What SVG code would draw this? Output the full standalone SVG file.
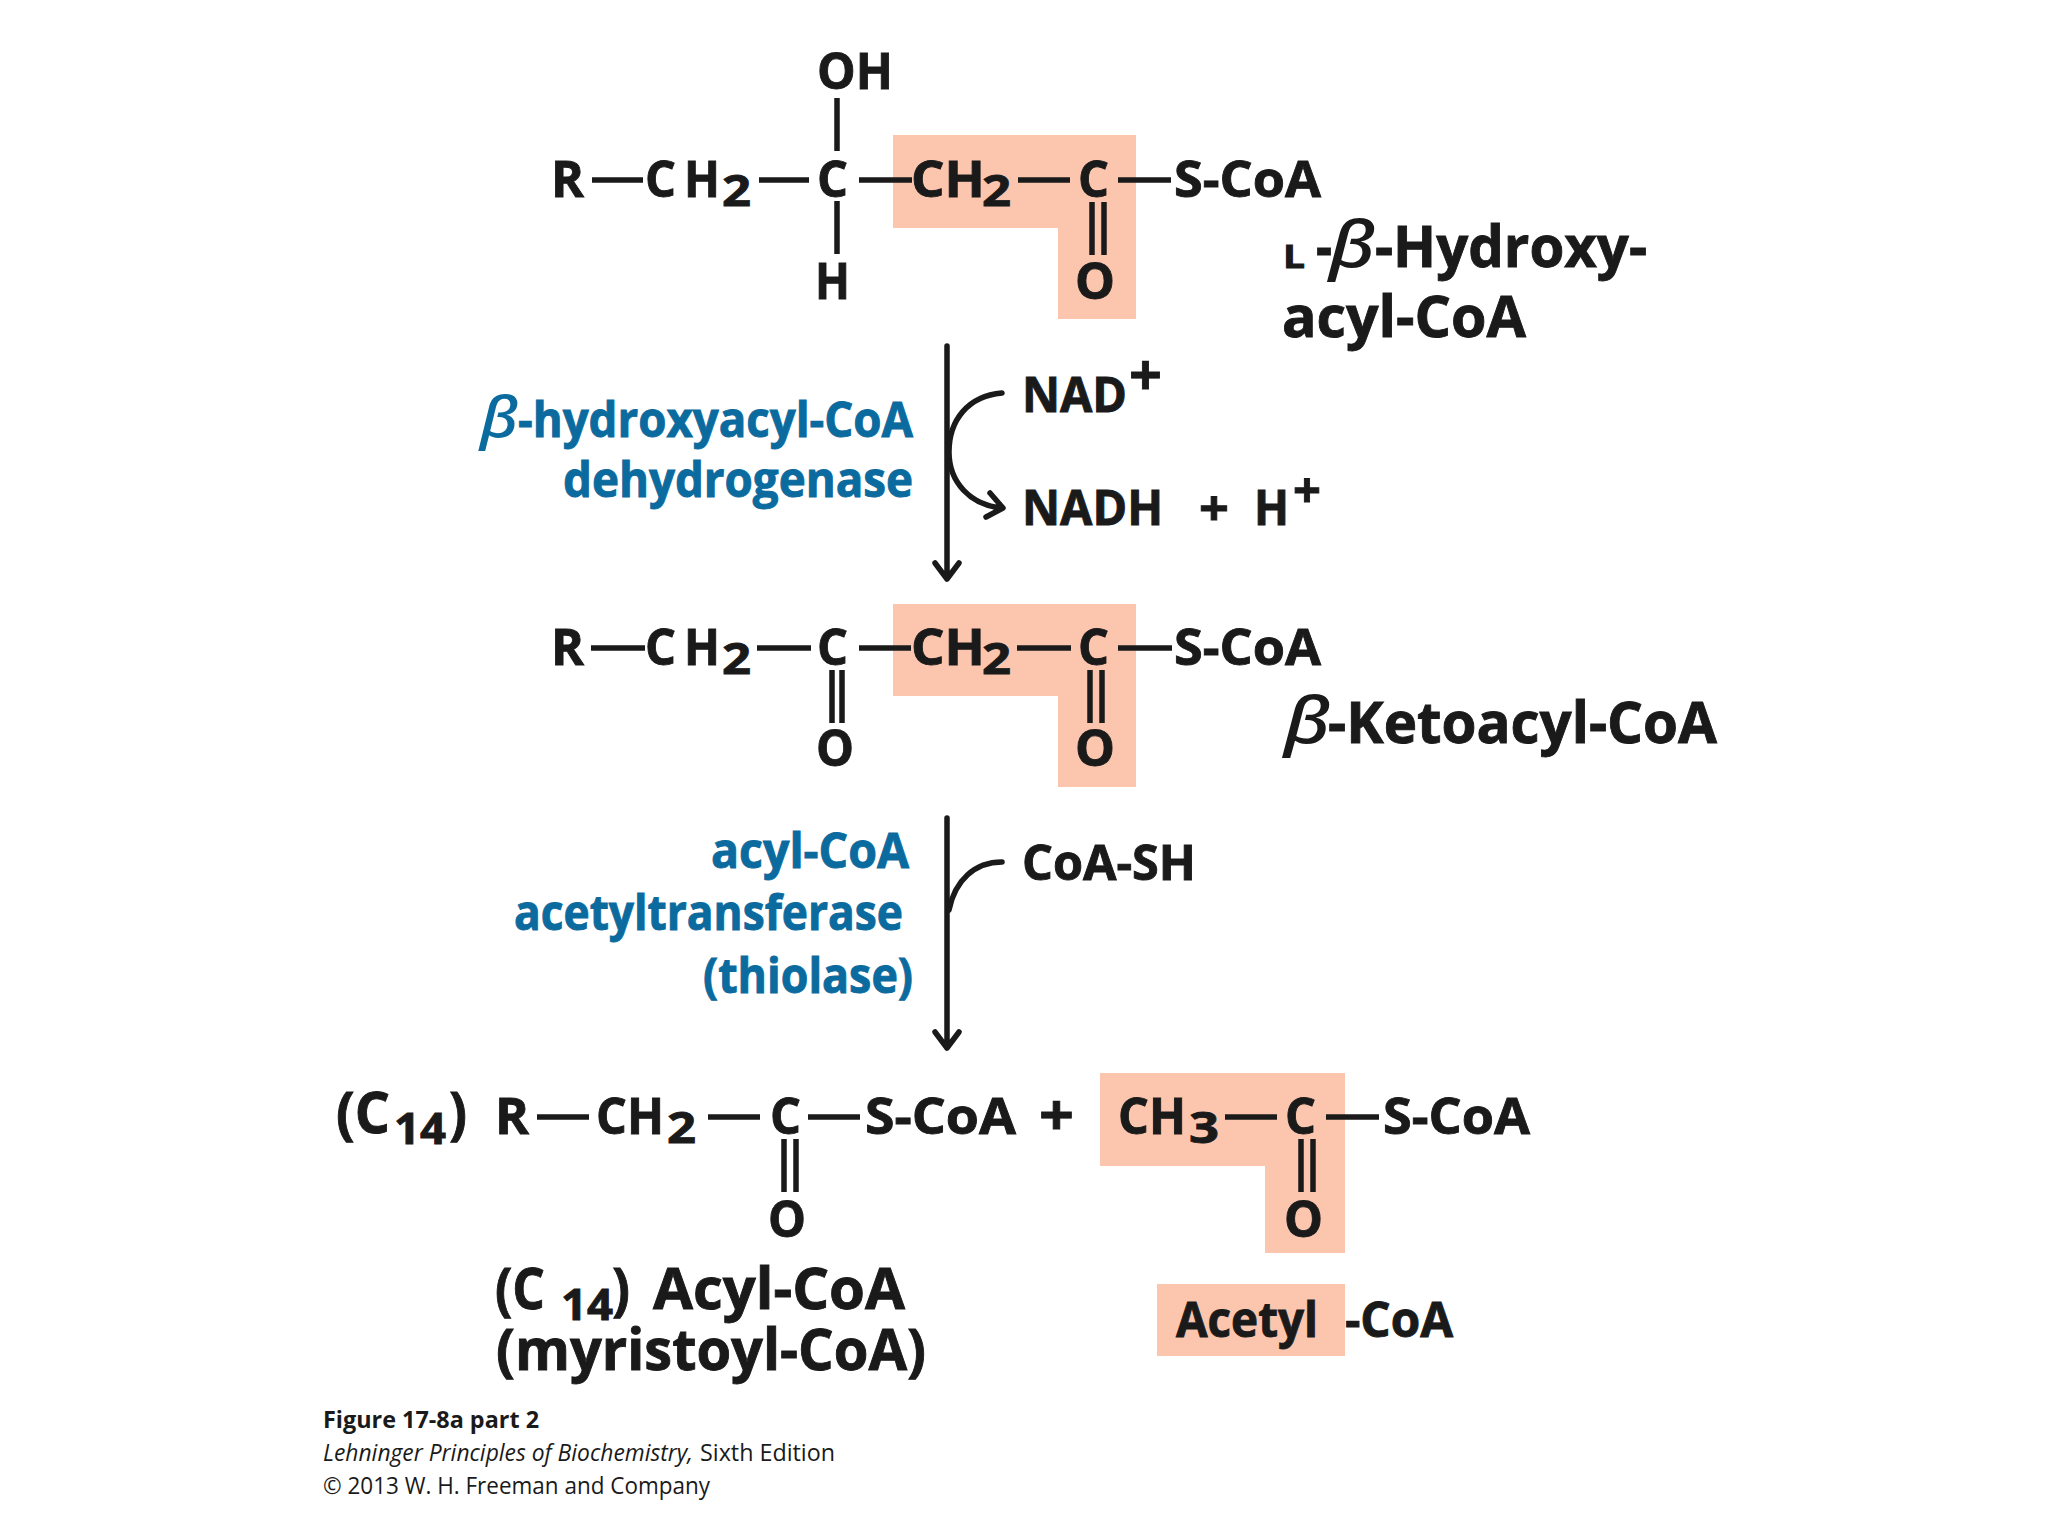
<svg xmlns="http://www.w3.org/2000/svg" width="2048" height="1536" viewBox="0 0 2048 1536">
<style>
text{font-family:"Open Sans","Liberation Sans",sans-serif;font-weight:700;fill:#1a1a1a;stroke:#1a1a1a;stroke-width:.9px}
.a{font-size:51px}.s{font-size:43px}.sl{font-size:32px}.l{font-size:57px}.m{font-size:48px}
.b{font-size:48px;fill:#0b6a9e;stroke:#0b6a9e}
.g{font-family:"Noto Sans","Open Sans",sans-serif;font-style:italic;font-weight:500;stroke-width:0;font-size:64px}
.gb{font-size:56px}
.f{font-size:23px;font-weight:400;stroke-width:0}.fb{font-size:23px;font-weight:700;stroke-width:0}.i{font-style:italic}
.hl{fill:#fcc6ae}
.bond{stroke:#1a1a1a;stroke-width:5.5;fill:none}
.arr{stroke:#1a1a1a;stroke-width:5.5;fill:none;stroke-linecap:round;stroke-linejoin:round}
</style>
<rect width="2048" height="1536" fill="#fff"/>
<g id="highlights">
<path class="hl" d="M893 135H1136V319H1058V228H893Z"/>
<path class="hl" d="M893 604H1136V787H1058V696H893Z"/>
<path class="hl" d="M1100 1073H1345V1253H1265V1166H1100Z"/>
<rect class="hl" x="1157" y="1284" width="188" height="72"/>
</g>
<g id="connectors">
<path class="bond" d="M592 180H643M759 180H809M859 180H912M1018 180H1070M1118 180H1171M837 98V151M837 201V254M1092 202V255M1104 202V255"/>
<path class="bond" d="M591 648H645M757 648H811M859 648H911M1017 648H1071M1118 648H1172M832 670V723M842 670V723M1090 670V723M1102 670V723"/>
<path class="bond" d="M537 1117H589M708 1117H760M808 1117H860M1225 1117H1277M1326 1117H1379M784 1139V1192M796 1139V1192M1301 1139V1192M1313 1139V1192"/>
<path class="arr" d="M947 346V579M935 563L947 579L959 563"/>
<path class="arr" d="M1002 393C968 396 949 420 949 452C949 482 970 505 1002 508M990 493L1003 508L986 517"/>
<path class="arr" d="M947 818V1048M935 1032L947 1048L959 1032"/>
<path class="arr" d="M1002 862C975 862 955 880 949 910"/>
</g>
<g id="hydroxyacyl-coa">
<text class="a" x="551" y="197" textLength="33" lengthAdjust="spacingAndGlyphs">R</text>
<text class="a" x="645" y="197" textLength="31" lengthAdjust="spacingAndGlyphs">C</text>
<text class="a" x="684" y="197" textLength="36" lengthAdjust="spacingAndGlyphs">H</text>
<text class="s" x="722" y="206" textLength="29" lengthAdjust="spacingAndGlyphs">2</text>
<text class="a" x="817" y="197" textLength="31" lengthAdjust="spacingAndGlyphs">C</text>
<text class="a" x="817" y="89" textLength="76" lengthAdjust="spacingAndGlyphs">OH</text>
<text class="a" x="815" y="299" textLength="35" lengthAdjust="spacingAndGlyphs">H</text>
<text class="a" x="911" y="197" textLength="74" lengthAdjust="spacingAndGlyphs">CH</text>
<text class="s" x="982" y="206" textLength="29" lengthAdjust="spacingAndGlyphs">2</text>
<text class="a" x="1078" y="197" textLength="31" lengthAdjust="spacingAndGlyphs">C</text>
<text class="a" x="1075" y="299" textLength="40" lengthAdjust="spacingAndGlyphs">O</text>
<text class="a" x="1174" y="197" textLength="147" lengthAdjust="spacingAndGlyphs">S-CoA</text>
<text class="sl" x="1283" y="268" textLength="22" lengthAdjust="spacingAndGlyphs">L</text>
<text class="l" x="1316" y="267" textLength="16" lengthAdjust="spacingAndGlyphs">-</text>
<text class="l g" x="1329" y="267" textLength="46" lengthAdjust="spacingAndGlyphs">β</text>
<text class="l" x="1375" y="267" textLength="272" lengthAdjust="spacingAndGlyphs">-Hydroxy-</text>
<text class="l" x="1282" y="337" textLength="244" lengthAdjust="spacingAndGlyphs">acyl-CoA</text>
</g>
<g id="dehydrogenase">
<text class="b g gb" x="480" y="437" textLength="38" lengthAdjust="spacingAndGlyphs">β</text>
<text class="b" x="518" y="437" textLength="395" lengthAdjust="spacingAndGlyphs">-hydroxyacyl-CoA</text>
<text class="b" x="563" y="497" textLength="350" lengthAdjust="spacingAndGlyphs">dehydrogenase</text>
<text class="m" x="1022" y="412" textLength="105" lengthAdjust="spacingAndGlyphs">NAD</text>
<text class="l" x="1129" y="395" textLength="33" lengthAdjust="spacingAndGlyphs">+</text>
<text class="m" x="1022" y="525" textLength="141" lengthAdjust="spacingAndGlyphs">NADH</text>
<text class="m" x="1199" y="525" textLength="30" lengthAdjust="spacingAndGlyphs">+</text>
<text class="m" x="1254" y="525" textLength="35" lengthAdjust="spacingAndGlyphs">H</text>
<text class="m" x="1293" y="507" textLength="28" lengthAdjust="spacingAndGlyphs">+</text>
</g>
<g id="ketoacyl-coa">
<text class="a" x="551" y="665" textLength="33" lengthAdjust="spacingAndGlyphs">R</text>
<text class="a" x="645" y="665" textLength="31" lengthAdjust="spacingAndGlyphs">C</text>
<text class="a" x="684" y="665" textLength="36" lengthAdjust="spacingAndGlyphs">H</text>
<text class="s" x="722" y="674" textLength="29" lengthAdjust="spacingAndGlyphs">2</text>
<text class="a" x="817" y="665" textLength="31" lengthAdjust="spacingAndGlyphs">C</text>
<text class="a" x="816" y="766" textLength="38" lengthAdjust="spacingAndGlyphs">O</text>
<text class="a" x="911" y="665" textLength="74" lengthAdjust="spacingAndGlyphs">CH</text>
<text class="s" x="982" y="674" textLength="29" lengthAdjust="spacingAndGlyphs">2</text>
<text class="a" x="1078" y="665" textLength="31" lengthAdjust="spacingAndGlyphs">C</text>
<text class="a" x="1075" y="766" textLength="40" lengthAdjust="spacingAndGlyphs">O</text>
<text class="a" x="1174" y="665" textLength="147" lengthAdjust="spacingAndGlyphs">S-CoA</text>
<text class="l g" x="1284" y="743" textLength="46" lengthAdjust="spacingAndGlyphs">β</text>
<text class="l" x="1328" y="743" textLength="389" lengthAdjust="spacingAndGlyphs">-Ketoacyl-CoA</text>
</g>
<g id="thiolase">
<text class="b" x="711" y="868" textLength="198" lengthAdjust="spacingAndGlyphs">acyl-CoA</text>
<text class="b" x="514" y="930" textLength="389" lengthAdjust="spacingAndGlyphs">acetyltransferase</text>
<text class="b" x="703" y="993" textLength="210" lengthAdjust="spacingAndGlyphs">(thiolase)</text>
<text class="m" x="1022" y="880" textLength="174" lengthAdjust="spacingAndGlyphs">CoA-SH</text>
</g>
<g id="myristoyl-coa">
<text class="l" x="336" y="1133" textLength="54" lengthAdjust="spacingAndGlyphs">(C</text>
<text class="s" x="394" y="1144" textLength="52" lengthAdjust="spacingAndGlyphs">14</text>
<text class="l" x="449" y="1133" textLength="18" lengthAdjust="spacingAndGlyphs">)</text>
<text class="a" x="495" y="1134" textLength="34" lengthAdjust="spacingAndGlyphs">R</text>
<text class="a" x="596" y="1134" textLength="68" lengthAdjust="spacingAndGlyphs">CH</text>
<text class="s" x="667" y="1143" textLength="29" lengthAdjust="spacingAndGlyphs">2</text>
<text class="a" x="770" y="1134" textLength="31" lengthAdjust="spacingAndGlyphs">C</text>
<text class="a" x="768" y="1237" textLength="38" lengthAdjust="spacingAndGlyphs">O</text>
<text class="a" x="865" y="1134" textLength="151" lengthAdjust="spacingAndGlyphs">S-CoA</text>
<text class="l" x="1039" y="1135" textLength="35" lengthAdjust="spacingAndGlyphs">+</text>
<text class="l" x="495" y="1309" textLength="50" lengthAdjust="spacingAndGlyphs">(C</text>
<text class="s" x="561" y="1320" textLength="52" lengthAdjust="spacingAndGlyphs">14</text>
<text class="l" x="612" y="1309" textLength="18" lengthAdjust="spacingAndGlyphs">)</text>
<text class="l" x="653" y="1309" textLength="252" lengthAdjust="spacingAndGlyphs">Acyl-CoA</text>
<text class="l" x="496" y="1370" textLength="430" lengthAdjust="spacingAndGlyphs">(myristoyl-CoA)</text>
</g>
<g id="acetyl-coa">
<text class="a" x="1118" y="1134" textLength="68" lengthAdjust="spacingAndGlyphs">CH</text>
<text class="s" x="1189" y="1143" textLength="30" lengthAdjust="spacingAndGlyphs">3</text>
<text class="a" x="1285" y="1134" textLength="31" lengthAdjust="spacingAndGlyphs">C</text>
<text class="a" x="1284" y="1237" textLength="39" lengthAdjust="spacingAndGlyphs">O</text>
<text class="a" x="1383" y="1134" textLength="147" lengthAdjust="spacingAndGlyphs">S-CoA</text>
<text class="m" x="1176" y="1337" textLength="142" lengthAdjust="spacingAndGlyphs">Acetyl</text>
<text class="m" x="1345" y="1337" textLength="108" lengthAdjust="spacingAndGlyphs">-CoA</text>
</g>
<g id="caption">
<text class="fb" x="323" y="1428" textLength="216" lengthAdjust="spacingAndGlyphs">Figure 17-8a part 2</text>
<text class="f i" x="323" y="1461" textLength="370" lengthAdjust="spacingAndGlyphs">Lehninger Principles of Biochemistry,</text>
<text class="f" x="700" y="1461" textLength="135" lengthAdjust="spacingAndGlyphs">Sixth Edition</text>
<text class="f" x="323" y="1494" textLength="387" lengthAdjust="spacingAndGlyphs">© 2013 W. H. Freeman and Company</text>
</g>
</svg>
